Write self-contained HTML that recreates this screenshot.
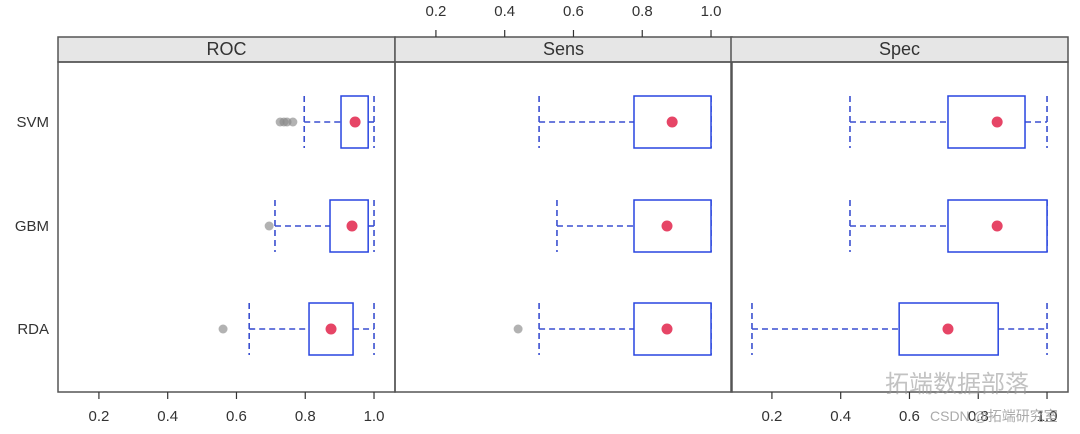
<!DOCTYPE html>
<html><head><meta charset="utf-8"><style>
body{margin:0;background:#fff;}
svg{display:block;font-family:"Liberation Sans",sans-serif;}
</style></head><body>
<svg id="chart" width="1080" height="434"></svg>
<script>
const models = ["SVM","GBM","RDA"];
const metrics = ["ROC","Sens","Spec"];
// [lowWhisker, q1, median, q3, highWhisker] per metric per model
const rocStats = [[0.797,0.904,0.945,0.983,1.0],[0.712,0.872,0.936,0.983,1.0],[0.637,0.811,0.875,0.939,1.0]];
const sensStats = [[0.5,0.776,0.887,1.0,1.0],[0.552,0.776,0.872,1.0,1.0],[0.5,0.776,0.872,1.0,1.0]];
const specStats = [[0.427,0.712,0.855,0.936,1.0],[0.427,0.712,0.855,1.0,1.0],[0.142,0.570,0.712,0.858,1.0]];
const rocOutliers = [[0.727,0.738,0.747,0.764],[0.695],[0.561]];
const sensOutliers = [[],[],[0.439]];
const specOutliers = [[],[],[]];
const tickLabels = [0.2,0.4,0.6,0.8,1.0];

const NS="http://www.w3.org/2000/svg";
const svg=document.getElementById('chart');
function mk(tag,attrs,parent){const e=document.createElementNS(NS,tag);for(const k in attrs)e.setAttribute(k,attrs[k]);(parent||svg).appendChild(e);return e;}
const panelLefts=[58,395,731], pw=337, plotTop=62, plotBottom=392, stripTop=37;
const xDom=[0.081,1.061];
function xs(p,v){return panelLefts[p]+(v-xDom[0])/(xDom[1]-xDom[0])*pw;}
const rowY=[122,226,329];
const allStats=[rocStats,sensStats,specStats], allOut=[rocOutliers,sensOutliers,specOutliers];

for(let p=0;p<3;p++){
  const g=mk('g',{});
  
  
  const strip=mk('rect',{x:panelLefts[p],y:stripTop,width:pw,height:plotTop-stripTop,fill:'#e6e6e6',stroke:'#555','stroke-width':1.5},g);
  
  
  const st=mk('text',{x:panelLefts[p]+pw/2,y:55,'text-anchor':'middle','font-size':18,fill:'#333'},g);
  st.textContent=metrics[p];
  
  
  const fr=mk('rect',{x:panelLefts[p],y:plotTop,width:pw,height:plotBottom-plotTop,fill:'none',stroke:'#555','stroke-width':1.5},g);
  
  
  for(let m=0;m<3;m++){
    const s=allStats[p][m], y=rowY[m], h=26;
    const bg=mk('g',{},g);
    
    
    const dash={stroke:'#3a4fd0','stroke-width':1.6,'stroke-dasharray':'6,4',fill:'none'};
    mk('line',Object.assign({x1:xs(p,s[0]),x2:xs(p,s[1]),y1:y,y2:y},dash),bg);
    mk('line',Object.assign({x1:xs(p,s[3]),x2:xs(p,s[4]),y1:y,y2:y},dash),bg);
    mk('line',Object.assign({x1:xs(p,s[0]),x2:xs(p,s[0]),y1:y-h,y2:y+h},dash),bg);
    mk('line',Object.assign({x1:xs(p,s[4]),x2:xs(p,s[4]),y1:y-h,y2:y+h},dash),bg);
    mk('rect',{x:xs(p,s[1]),y:y-h,width:Math.max(xs(p,s[3])-xs(p,s[1]),0),height:2*h,fill:'#fff',stroke:'#2845e0','stroke-width':1.5},bg);
    const md=mk('circle',{cx:xs(p,s[2]),cy:y,r:5.5,fill:'#e64566'},bg);
    
    
    for(const o of allOut[p][m]){
      const c=mk('circle',{cx:xs(p,o),cy:y,r:4.5,fill:'#888','fill-opacity':0.65},bg);
      
      
    }
  }
  const atTop=(p===1);
  for(const t of tickLabels){
    const x=xs(p,t);
    if(atTop){
      mk('line',{x1:x,x2:x,y1:30,y2:stripTop,stroke:'#333','stroke-width':1.2},g);
      const tl=mk('text',{x:x,y:16,'text-anchor':'middle','font-size':15,fill:'#333'},g);
      tl.textContent=t.toFixed(1);
      
      
    } else {
      mk('line',{x1:x,x2:x,y1:plotBottom,y2:399,stroke:'#333','stroke-width':1.2},g);
      const tl=mk('text',{x:x,y:421,'text-anchor':'middle','font-size':15,fill:'#333'},g);
      tl.textContent=t.toFixed(1);
      
      
    }
  }
}
for(let m=0;m<3;m++){
  const t=mk('text',{x:49,y:rowY[m]+5,'text-anchor':'end','font-size':15,fill:'#333'});
  t.textContent=models[m];
  
  
}
const wm=mk('text',{x:885,y:392,'font-size':24,fill:'#999','fill-opacity':0.6,'font-family':'"Liberation Sans","Noto Sans CJK SC",sans-serif'});
wm.textContent='拓端数据部落';


const wm2=mk('text',{x:930,y:421,'font-size':14,fill:'#aaa','font-family':'"Liberation Sans","Noto Sans CJK SC",sans-serif'});
wm2.textContent='CSDN @拓端研究室';


</script>
</body></html>
